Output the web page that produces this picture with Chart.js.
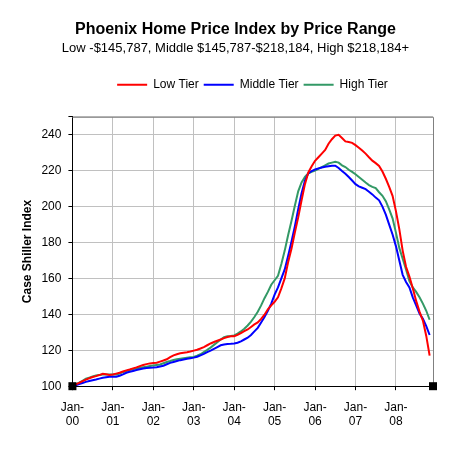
<!DOCTYPE html>
<html>
<head>
<meta charset="utf-8">
<script src="https://cdn.jsdelivr.net/npm/chart.js@4/dist/chart.umd.min.js"></script>
<style>
  html, body { margin: 0; padding: 0; background: #fff; }
  #wrap { width: 471px; height: 449px; }
</style>
</head>
<body>
<div id="wrap"><canvas id="hpiChart" width="471" height="449"></canvas></div>
<script>
// years on the category axis, one Jan tick per year
const years = ['00', '01', '02', '03', '04', '05', '06', '07', '08'];
const monthNames = ['Jan', 'Feb', 'Mar', 'Apr', 'May', 'Jun', 'Jul', 'Aug', 'Sep', 'Oct', 'Nov', 'Dec'];

// Case Shiller index, Jan-00 .. Nov-08 (Dec-08 left empty)
const lowTier = [
  100.0, 101.0, 101.8, 102.8, 103.7, 104.4, 105.1, 105.6, 106.2, 106.9, 106.6, 106.3,
  106.5, 107.0, 107.5, 108.2, 108.8, 109.3, 109.9, 110.5, 111.2, 111.8, 112.3, 112.7,
  112.9, 113.1, 113.7, 114.3, 115.0, 116.2, 117.2, 117.8, 118.3, 118.6, 118.9, 119.3,
  119.8, 120.3, 121.0, 121.8, 122.8, 123.8, 124.6, 125.3, 126.0, 126.8, 127.4, 127.8,
  127.8, 128.6, 129.6, 130.6, 131.6, 133.0, 134.4, 135.5, 137.5, 139.8, 142.8, 145.0,
  147.0, 149.5, 154.5, 160.0, 169.0, 176.5, 185.5, 194.0, 203.5, 212.5, 219.0, 222.5,
  225.5, 227.5, 229.5, 231.5, 235.0, 237.5, 239.5, 240.0, 238.2, 236.3, 236.0, 235.5,
  234.2, 232.8, 231.2, 229.5, 227.5, 225.6, 224.2, 222.6, 219.5, 215.5, 211.0, 206.0,
  197.5, 187.5, 175.5, 166.5, 161.0, 154.5, 147.5, 141.5, 136.5, 128.0, 117.0, null
];
const middleTier = [
  100.0, 100.5, 101.2, 101.8, 102.4, 102.9, 103.3, 103.7, 104.2, 104.7, 105.0, 105.2,
  105.2, 105.3, 105.8, 106.6, 107.5, 108.0, 108.5, 109.0, 109.4, 109.8, 110.1, 110.3,
  110.4, 110.6, 111.0, 111.4, 112.2, 113.0, 113.5, 114.0, 114.5, 114.9, 115.3, 115.6,
  115.9, 116.4, 117.2, 118.0, 119.0, 119.8, 120.8, 121.8, 122.8, 123.2, 123.5, 123.6,
  123.8, 124.2, 125.0, 126.0, 127.0, 128.5, 130.5, 132.5, 135.5, 138.5, 142.0, 146.0,
  151.0, 155.0, 160.0, 165.0, 172.5, 180.5, 189.0, 198.5, 207.5, 214.5, 218.5, 219.8,
  220.7, 221.3, 221.8, 222.2, 222.5, 222.8, 222.8, 221.5, 219.8, 218.3, 216.5, 214.5,
  212.5, 211.3, 210.5, 209.7, 208.3, 206.8, 205.0, 203.5, 200.0, 195.5, 190.0, 184.5,
  178.0, 170.0, 162.0, 158.0, 155.0, 149.5, 145.0, 140.5, 137.5, 133.5, 128.5, null
];
const highTier = [
  100.0, 101.0, 102.0, 103.0, 104.2, 104.8, 105.4, 106.0, 106.3, 106.5, 106.5, 106.5,
  106.5, 106.5, 107.0, 107.8, 108.4, 109.0, 109.5, 109.9, 110.3, 110.6, 110.9, 111.2,
  111.5, 111.8, 112.1, 112.8, 113.5, 114.0, 114.6, 115.0, 115.3, 115.6, 115.9, 116.1,
  116.3, 117.0, 117.8, 119.0, 120.2, 121.5, 123.0, 124.5, 126.0, 127.3, 127.8, 128.0,
  128.3, 129.3, 130.5, 132.0, 133.8, 136.0, 138.5, 141.5, 145.0, 149.0, 152.5, 156.5,
  159.0, 161.5, 168.0, 175.5, 184.0, 192.0, 200.5, 208.5, 213.5, 216.5, 218.5, 219.3,
  220.0, 221.0, 222.0, 223.0, 224.0, 224.5, 225.0, 224.5, 223.0, 222.0, 220.5, 219.3,
  218.0, 216.5, 215.0, 213.4, 212.0, 211.0, 210.3, 208.0, 206.0, 203.0, 198.5, 193.5,
  185.5, 177.0, 171.0, 165.0, 158.5, 155.0, 152.5, 149.5, 146.0, 142.0, 137.0, null
];

const labels = [];
years.forEach(yr => monthNames.forEach(m => labels.push(m + '-' + yr)));

const font = "'Liberation Sans', Arial, sans-serif";

// plot frame (grey top/right) and the little black handles on the x axis
const framePlugin = {
  id: 'frame',
  beforeLayout(chart) {
    const lg = chart.legend;
    if (lg && !lg._patched) {
      // leave a gap between the legend row and the plot
      const fit = lg.fit;
      lg.fit = function() { fit.call(this); this.height += 16; };
      // the legend row sits a little right of centre in the original
      const draw = lg.draw;
      lg.draw = function() {
        this.ctx.save();
        this.ctx.translate(17, 0);
        draw.call(this);
        this.ctx.restore();
      };
      lg._patched = true;
    }
  },
  afterDraw(chart) {
    const { ctx, chartArea: a } = chart;
    ctx.save();
    ctx.strokeStyle = '#808080';
    ctx.lineWidth = 1;
    ctx.beginPath();
    ctx.moveTo(a.left, a.top + 0.5);
    ctx.lineTo(a.right + 0.5, a.top + 0.5);
    ctx.lineTo(a.right + 0.5, a.bottom);
    ctx.stroke();
    ctx.fillStyle = '#000';
    ctx.fillRect(a.left - 4, a.bottom - 4, 8, 8);
    ctx.fillRect(a.right - 4, a.bottom - 4, 8, 8);
    ctx.restore();
  }
};

function series(label, data, color) {
  return {
    label: label,
    data: data,
    borderColor: color,
    backgroundColor: color,
    borderWidth: 2,
    pointRadius: 0,
    tension: 0,
    spanGaps: false
  };
}

new Chart(document.getElementById('hpiChart').getContext('2d'), {
  type: 'line',
  data: {
    labels: labels,
    datasets: [
      series('Low Tier', lowTier, '#FF0000'),
      series('Middle Tier', middleTier, '#0000FF'),
      series('High Tier', highTier, '#339966')
    ]
  },
  options: {
    responsive: false,
    animation: false,
    layout: { padding: { left: 17, right: 17, top: 8, bottom: 10 } },
    plugins: {
      title: {
        display: true,
        text: 'Phoenix Home Price Index by Price Range',
        color: '#000',
        font: { family: font, size: 16, weight: 'bold' },
        padding: { top: 12, bottom: 1 }
      },
      subtitle: {
        display: true,
        text: 'Low -$145,787, Middle $145,787-$218,184, High $218,184+',
        color: '#000',
        font: { family: font, size: 13 },
        padding: { bottom: 18 }
      },
      legend: {
        position: 'top',
        labels: {
          color: '#000',
          font: { family: font, size: 12 },
          boxWidth: 30,
          boxHeight: 2,
          padding: 5,
          generateLabels: function(chart) {
            const items = Chart.defaults.plugins.legend.labels.generateLabels(chart);
            items.forEach(it => { it.lineWidth = 0; });
            return items;
          }
        }
      },
      tooltip: { enabled: false }
    },
    scales: {
      x: {
        type: 'category',
        offset: false,
        grid: { color: '#C0C0C0', tickColor: '#000', tickLength: 4 },
        border: { color: '#000' },
        ticks: {
          autoSkip: false,
          maxRotation: 0,
          padding: 10,
          color: '#000',
          font: { family: font, size: 12 },
          callback: function(value, index) {
            if (index % 12 !== 0) return null;
            return ['Jan-', years[index / 12]];
          }
        }
      },
      y: {
        min: 100,
        max: 250,
        grid: { color: '#C0C0C0', tickColor: '#000', tickLength: 4 },
        border: { color: '#000' },
        ticks: {
          stepSize: 20,
          padding: 7,
          color: '#000',
          font: { family: font, size: 12 },
          callback: v => (v === 250 ? '' : v)
        },
        title: {
          display: true,
          text: 'Case Shiller Index',
          color: '#000',
          font: { family: font, size: 12, weight: 'bold' },
          padding: { top: 3, bottom: 0 }
        }
      },
      // empty right-hand strip so the titles stay centred on the page
      spacer: {
        position: 'right',
        display: true,
        grid: { display: false },
        border: { display: false },
        ticks: { display: false },
        afterFit: scale => { scale.width = 21; }
      }
    }
  },
  plugins: [framePlugin]
});
</script>
</body>
</html>
